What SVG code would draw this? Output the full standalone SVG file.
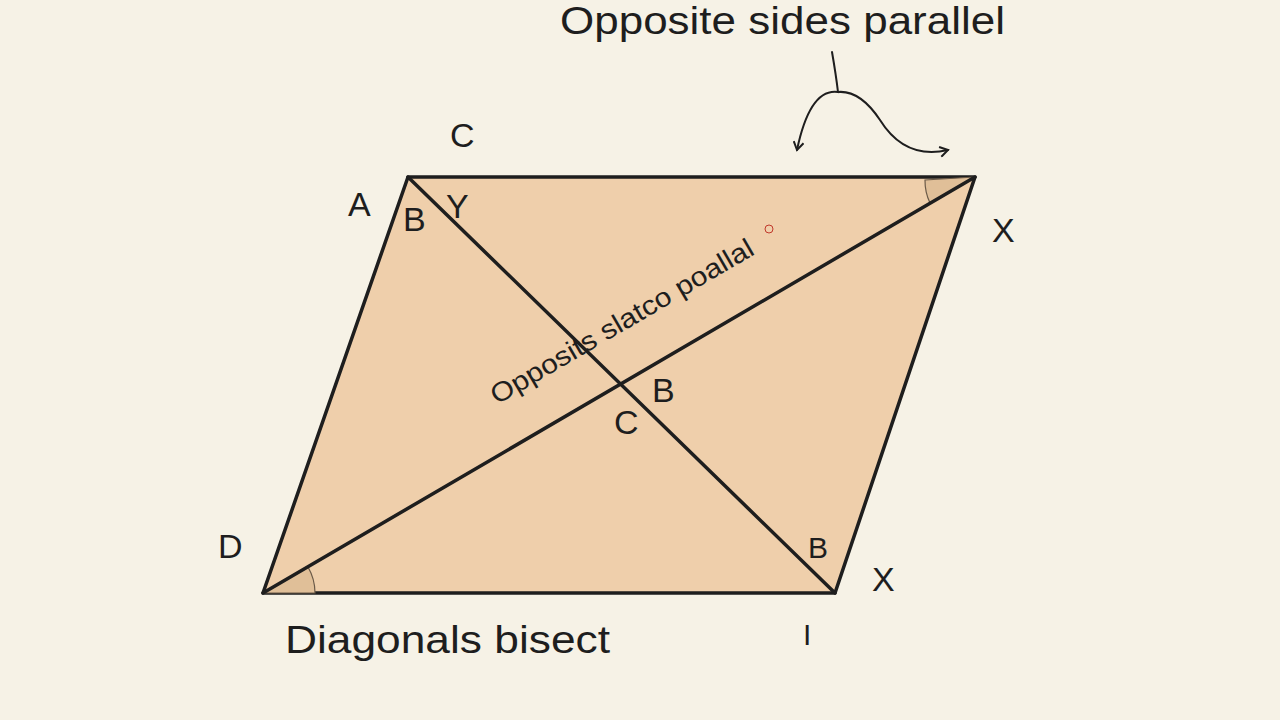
<svg xmlns="http://www.w3.org/2000/svg" width="1280" height="720" viewBox="0 0 1280 720">
<defs>
<style>
.t{font-family:"Liberation Sans",Arial,sans-serif;fill:#1e1e1e}
.l{font-size:34px}
.ln{stroke:#1e1e1e;stroke-width:3.5;fill:none;stroke-linecap:round}
</style>
<marker id="ah" markerWidth="12" markerHeight="12" refX="9" refY="6" orient="auto" markerUnits="userSpaceOnUse">
<path d="M1,1 L9,6 L1,11" fill="none" stroke="#1e1e1e" stroke-width="2"/>
</marker>
</defs>
<rect width="1280" height="720" fill="#f6f2e6"/>
<g id="shape">
<polygon points="408,177 975,177 835,593 263,593" fill="#efcfab" stroke="#1e1e1e" stroke-width="3.5" stroke-linejoin="round"/>
<path d="M263,593 L308,567 A52,52 0 0 1 315,593 Z" fill="#e0bf98" stroke="#6b5a48" stroke-width="1.2"/>
<path d="M975,177 L930,203 A52,52 0 0 1 925,180 Z" fill="#e0bf98" stroke="#6b5a48" stroke-width="1.2"/>
</g>
<g id="connectors">
<line class="ln" x1="408" y1="177" x2="835" y2="593"/>
<line class="ln" x1="263" y1="593" x2="975" y2="177"/>
<path class="ln" style="stroke-width:2" d="M832,52 Q836,75 838,92 Q810,88 797,150" marker-end="url(#ah)"/>
<path class="ln" style="stroke-width:2" d="M838,92 Q860,90 880,120 Q905,160 948,150" marker-end="url(#ah)"/>
</g>
<g id="labels">
<text class="t" x="560" y="34" font-size="38" textLength="445" lengthAdjust="spacingAndGlyphs">Opposite sides parallel</text>
<text class="t l" x="450" y="147">C</text>
<text class="t l" x="348" y="216">A</text>
<text class="t l" x="403" y="231">B</text>
<text class="t l" x="446" y="218">Y</text>
<text class="t l" x="992" y="242">X</text>
<text class="t l" x="652" y="402">B</text>
<text class="t l" x="614" y="434">C</text>
<text class="t l" x="218" y="558">D</text>
<text class="t" x="808" y="558" font-size="30">B</text>
<text class="t l" x="872" y="591">X</text>
<text class="t" x="803" y="645" font-size="30">I</text>
<text class="t" x="285" y="653" font-size="38" textLength="325" lengthAdjust="spacingAndGlyphs">Diagonals bisect</text>
<text class="t" font-size="27" transform="translate(497,405) rotate(-30.3)" textLength="300" lengthAdjust="spacingAndGlyphs">Opposits slatco poallal</text>
<circle cx="769" cy="229" r="4" fill="none" stroke="#c0392b" stroke-width="1"/>
</g>
</svg>
